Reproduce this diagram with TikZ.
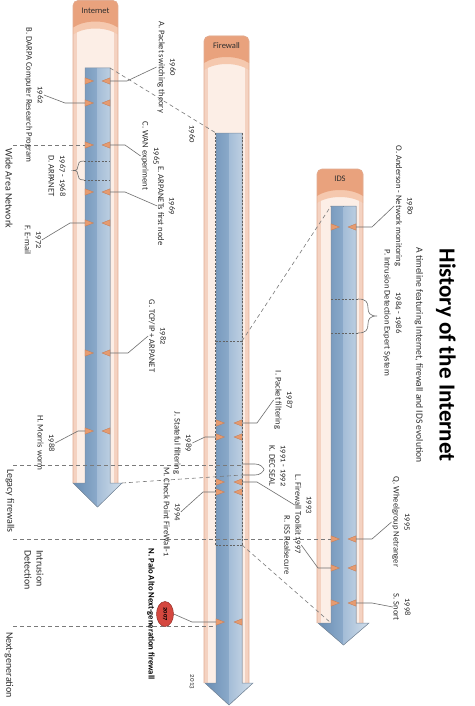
\documentclass[tikz,border=0pt]{standalone}
\usepackage{fontspec}
\setmainfont{Carlito}[Numbers=OldStyle]
\usetikzlibrary{shapes.geometric}
\definecolor{hdr}{HTML}{E9A27D}
\definecolor{hdrlt}{HTML}{F5C8AE}
\definecolor{tband}{HTML}{F4D2C1}
\definecolor{tin}{HTML}{FCEEE6}
\definecolor{tline}{HTML}{E2AC92}
\definecolor{bdark}{HTML}{6A8EB4}
\definecolor{bmidA}{HTML}{8BAACA}
\definecolor{bmidB}{HTML}{A4BDD7}
\definecolor{blight}{HTML}{D3DFEB}
\definecolor{bline}{HTML}{7D8FA3}
\definecolor{mk}{HTML}{E69B70}
\definecolor{mkline}{HTML}{C47A52}
\definecolor{callc}{HTML}{6E6E6E}
\definecolor{dashc}{HTML}{7A7A7A}
\definecolor{redc}{HTML}{D5473F}
\definecolor{txt}{HTML}{2E2E2E}
\tikzset{
  evt/.style={rotate=-90, align=center, font=\fontsize{8.6}{11.5}\selectfont, inner sep=0.5pt, text=txt},
  era/.style={rotate=-90, anchor=west, font=\fontsize{10}{12}\selectfont, inner sep=0pt, text=txt},
  hdrtext/.style={font=\fontsize{8.5}{10}\selectfont, text=txt, inner sep=0.5pt},
  call/.style={callc, line width=0.6pt},
  dsh/.style={dashc, line width=0.6pt, dash pattern=on 4pt off 3pt},
  dshin/.style={dashc!80!black, line width=0.5pt, dash pattern=on 2pt off 1.5pt},
  mkstyle/.style={fill=mk, draw=mkline, line width=0.3pt},
}
% tube: #1 left, #2 right, #3 top, #4 bottom, #5 header name
\newcommand\drawtube[5]{%
  \begin{scope}
    \clip[rounded corners=5pt] (#1,#3) rectangle (#2,{#4+10});
    \fill[tband] (#1,#3) rectangle (#2,#4);
    \fill[tin] ({#1+4},#3) rectangle ({#2-4},#4);
    \fill[hdrlt] (#1,#3) -- (#1,{#3+34}) .. controls ({#1+12},{#3+26}) and ({#2-12},{#3+26}) .. (#2,{#3+34}) -- (#2,#3) -- cycle;
    \fill[hdr] (#1,#3) -- (#1,{#3+27}) .. controls ({#1+12},{#3+19}) and ({#2-12},{#3+19}) .. (#2,{#3+27}) -- (#2,#3) -- cycle;
  \end{scope}
  \draw[tline, line width=0.6pt, rounded corners=5pt] (#1,#4) -- (#1,#3) -- (#2,#3) -- (#2,#4);
  \node[hdrtext] (h#5) at ({(#1+#2)/2},{#3+10}) {#5};
}
% bar: #1 left, #2 right, #3 top, #4 shaft bottom, #5 head left, #6 head right, #7 tip y
\newcommand\drawbar[7]{%
  \pgfmathsetmacro\barmidx{(#1+#2)/2}
  \begin{scope}
    \clip (#1,#3) -- (#2,#3) -- (#2,#4) -- (#6,#4) -- (\barmidx,#7) -- (#5,#4) -- (#1,#4) -- cycle;
    \fill[left color=bdark, right color=bmidA] (#5,#3) rectangle (\barmidx,#7);
    \fill[left color=bmidB, right color=blight] (\barmidx,#3) rectangle (#6,#7);
  \end{scope}
  \draw[bline, line width=0.5pt] (#1,#3) -- (#2,#3) -- (#2,#4) -- (#6,#4) -- (\barmidx,#7) -- (#5,#4) -- (#1,#4) -- cycle;
}
% marker pair: #1 left x, #2 right x, #3 y
\newcommand\mkpair[3]{%
  \fill[mkstyle] (#1,{#3-3.2}) -- ({#1+8.5},#3) -- (#1,{#3+3.2}) -- cycle;
  \fill[mkstyle] (#2,{#3-3.2}) -- ({#2-8},#3) -- (#2,{#3+3.2}) -- cycle;
}
\begin{document}
\begin{tikzpicture}[x=1pt,y=-1pt]
\useasboundingbox (0,0) rectangle (474,706);
\fill[white] (0,0) rectangle (474,706);

% ---------- tubes ----------
\drawtube{73}{118}{0.5}{483}{Internet}
\drawtube{204}{249}{36}{683}{Firewall}
\drawtube{317}{363}{169}{623}{IDS}

% ---------- bars with arrow heads ----------
\drawbar{85}{110}{68}{483}{73}{122}{507}
\drawbar{216}{242}{133}{683}{205}{253}{705}
\drawbar{331}{356}{206}{623}{318}{369}{645}

% ---------- markers ----------
\mkpair{85}{110}{81}
\mkpair{85}{110}{103}
\mkpair{85}{110}{145}
\mkpair{85}{110}{192}
\mkpair{85}{110}{223}
\mkpair{85}{110}{353}
\mkpair{85}{110}{431}
\mkpair{216}{242}{423}
\mkpair{216}{242}{437}
\mkpair{216}{242}{482}
\mkpair{216}{242}{492}
\mkpair{216}{242}{622}
\mkpair{331}{356}{227}
\mkpair{331}{356}{539}
\mkpair{331}{356}{568}
\mkpair{331}{356}{603}

% ---------- marker coordinates ----------
\coordinate (mA) at (110,81);
\coordinate (mB) at (85,103);
\coordinate (mC) at (110,145);
\coordinate (mCl) at (85,145);
\coordinate (mE) at (110,192);
\coordinate (mF) at (85,223);
\coordinate (mG) at (110,353);
\coordinate (mH) at (85,431);
\coordinate (mI) at (242,423);
\coordinate (mJ) at (216,437);
\coordinate (mL) at (242,482);
\coordinate (mM) at (216,492);
\coordinate (mN) at (216,622);
\coordinate (mO) at (356,227);
\coordinate (mQ) at (356,539);
\coordinate (mQl) at (331,539);
\coordinate (mR) at (331,568);
\coordinate (mS) at (356,603);
\coordinate (iTop) at (110,68);
\coordinate (iEnd) at (122,483);
\coordinate (fTop) at (216,133);
\coordinate (fMidR) at (242,341);
\coordinate (fLowR) at (242,545);
\coordinate (fK) at (242,475);
\coordinate (fKl) at (242,465);
\coordinate (fN) at (216,626);
\coordinate (sTop) at (331,206);
\coordinate (sBot) at (331,623);
\coordinate (eW) at (13,145);
\coordinate (eL) at (13,465);
\coordinate (eI) at (13,539);
\coordinate (eN) at (13,626);

% ---------- dashed range marks ----------
\draw[dshin] (84,161) -- (110,161);
\draw[dshin] (84,180) -- (110,180);
\draw[dshin] (331,299) -- (358,299);
\draw[dshin] (331,333) -- (358,333);
\draw[dshin] (215.5,133) -- (215.5,545);
\draw[dshin] (242.5,133) -- (242.5,545);
\draw[dshin] (215.5,341) -- (242.5,341);
\draw[dshin] (215.5,545) -- (242.5,545);

% ---------- braces ----------
\draw[call] (84,161) .. controls (79,161) and (78,163) .. (78,166) .. controls (78,169) and (77,170.5) .. (73.5,170.5) .. controls (77,170.5) and (78,172) .. (78,175) .. controls (78,178) and (79,180) .. (84,180);
\draw[call] (358,299) .. controls (366,299) and (368,302) .. (368,308) .. controls (368,313) and (370,316) .. (377,316) .. controls (370,316) and (368,319) .. (368,324) .. controls (368,330) and (366,333) .. (358,333);
\draw[call] (242,464) -- (255,464) .. controls (260,464) and (263,467) .. (264,469.5) .. controls (263,472) and (260,475) .. (255,475) -- (242,475);

% ---------- dashed connectors ----------
\draw[dsh] (iTop) -- (fTop);
\draw[dsh] (iEnd) -- (fK);
\draw[dsh] (fMidR) -- (sTop);
\draw[dsh] (fLowR) -- (sBot);
\draw[dsh] (eW) -- (mCl);
\draw[dsh] (eL) -- (fKl);
\draw[dsh] (eI) -- (mQl);
\draw[dsh] (eN) -- (fN);

% ---------- event labels ----------
\node[evt] (lA) at (166.5,67) {1960\\A. Packet switching theory};
\node[evt] (lB) at (34,95) {1962\\B. DARPA Computer Research Program};
\node[evt] (lC) at (150.5,156) {1965\\C. WAN experiment};
\node[evt] (lD) at (57,176) {1967 - 1968\\D. ARPANET};
\node[evt] (lE) at (166.5,206) {1969\\E. ARPANETs first node};
\node[evt] (lF) at (33,240) {1972\\F. E-mail};
\node[evt] (lG) at (157.5,336) {1982\\G. TCP/IP + ARPANET};
\node[evt] (lH) at (46,443) {1988\\H. Morris worm};
\node[evt] (lI) at (283.5,400) {1987\\I. Packet filtering};
\node[evt] (lJ) at (182.5,443) {1989\\J. Stateful filtering};
\node[evt] (lK) at (277.5,466) {1991 - 1992\\K. DEC SEAL};
\node[evt] (lL) at (303.5,505) {1993\\L. Firewall Toolkit};
\node[evt] (lM) at (172,512) {1994\\M. Check Point FireWall-1};
\node[evt, font=\bfseries\fontsize{8.6}{11.5}\selectfont, text=black] (lN) at (151,614) {N. Palo Alto Next-generation firewall};
\node[evt] (lO) at (404,206) {1980\\O. Anderson - Network monitoring};
\node[evt] (lP) at (392.5,313) {1984 - 1986\\P. Intrusion Detection Expert System};
\node[evt] (lQ) at (401,522) {1995\\Q. Wheelgroup Netranger};
\node[evt] (lR) at (292.5,545) {1997\\R. ISS Realsecure};
\node[evt] (lS) at (402,607) {1998\\S. Snort};
\node[evt] (f1960) at (192,134) {1960};
\node[evt, font=\fontsize{7}{8}\selectfont] (f2013) at (192,682) {2013};
\node[ellipse, rotate=-90, fill=redc, draw=redc!70!black, line width=0.5pt, minimum width=25pt, minimum height=17pt, inner sep=0pt, font=\bfseries\fontsize{6.5}{7}\selectfont] (e2007) at (165,614) {2007};

% ---------- callouts ----------
\draw[call] (mA) -- ++(17,0) -- (lA.south);
\draw[call] (mB) -- ++(-20,0) -- (lB.north);
\draw[call] (mC) -- ++(15,0) -- (lC.south);
\draw[call] (mE) -- ++(15,0) -- (lE.south);
\draw[call] (mF) -- ++(-15,0) -- (lF.north);
\draw[call] (mG) -- ++(18,0) -- (lG.south);
\draw[call] (mH) -- ++(-7,0) -- (lH.north);
\draw[call] (mI) -- ++(15,0) -- (lI.south);
\draw[call] (mJ) -- ++(-11,0) -- (lJ.north);
\draw[call] (mL) -- ++(15,0) -- (lL.south);
\draw[call] (mM) -- ++(-13,0) -- (lM.north);
\draw[call] (mN) -- ++(-24,0) -- (e2007.north);
\draw[call] (mO) -- ++(16,0) -- (lO.south);
\draw[call] (mQ) -- ++(16,0) -- (lQ.south);
\draw[call] (mR) -- ++(-13,0) -- (lR.north);
\draw[call] (mS) -- ++(16,0) -- (lS.south);

% ---------- era labels ----------
\node[era] (eraW) at (9,148) {Wide Area Network};
\node[era] (eraL) at (10,469) {Legacy firewalls};
\node[era, align=left, font=\fontsize{10}{12}\selectfont] (eraI) at (34,550) {Intrusion\\Detection};
\node[era] (eraN) at (9,632) {Next-generation};

% ---------- title ----------
\node[rotate=-90, font=\bfseries\fontsize{23}{26}\selectfont, text=black, inner sep=0pt] (title) at (446,355) {History of the Internet};
\node[rotate=-90, font=\fontsize{9.6}{11}\selectfont, text=txt, inner sep=0pt] (subtitle) at (419,355) {A timeline featuring Internet, firewall and IDS evolution};
\end{tikzpicture}
\end{document}
